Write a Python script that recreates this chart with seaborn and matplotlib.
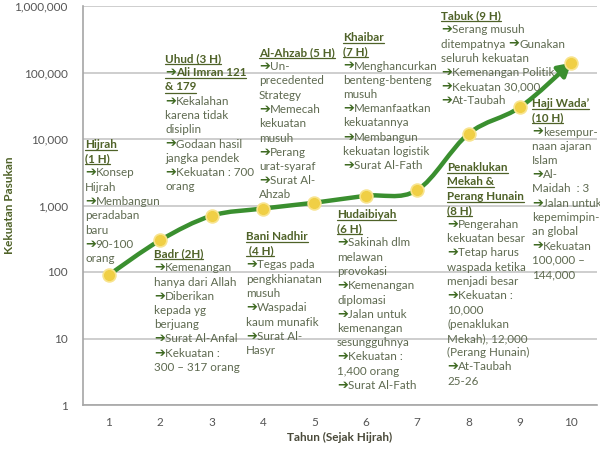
import re
import numpy as np
import matplotlib
matplotlib.use('Agg')
import matplotlib.pyplot as plt
import seaborn as sns
from matplotlib.path import Path
from matplotlib.patches import FancyArrowPatch
from matplotlib.lines import Line2D
from matplotlib.ticker import NullLocator

# data
years = [1, 2, 3, 4, 5, 6, 7, 8, 9, 10]
pasukan = [90, 300, 700, 900, 1100, 1400, 1700, 12000, 30000, 140000]
y_ticks = [1, 10, 100, 1000, 10000, 100000, 1000000]

# annotation texts (title lines, body lines)
hijrah_title = ['Hijrah', '(1 H)']
hijrah_body = ['➔Konsep', 'Hijrah', '➔Membangun', 'peradaban', 'baru', '➔90-100', 'orang']
badr_title = ['Badr (2H)']
badr_body = ['➔Kemenangan', 'hanya dari Allah', '➔Diberikan', 'kepada yg', 'berjuang',
             '➔Surat Al-Anfal', '➔Kekuatan :', '300 – 317 orang']
uhud_title = ['Uhud (3 H)', '➔Ali Imran 121', '& 179']
uhud_body = ['➔Kekalahan', 'karena tidak', 'disiplin', '➔Godaan hasil', 'jangka pendek',
             '➔Kekuatan : 700', 'orang']
nadhir_title = ['Bani Nadhir', ' (4 H)']
nadhir_body = ['➔Tegas pada', 'pengkhianatan', 'musuh', '➔Waspadai', 'kaum munafik',
               '➔Surat Al-', 'Hasyr']
ahzab_title = ['Al-Ahzab (5 H)']
ahzab_body = ['➔Un-', 'precedented', 'Strategy', '➔Memecah', 'kekuatan', 'musuh',
              '➔Perang', 'urat-syaraf', '➔Surat Al-', 'Ahzab']
hudaibiyah_title = ['Hudaibiyah', '(6 H)']
hudaibiyah_body = ['➔Sakinah dlm', 'melawan', 'provokasi', '➔Kemenangan', 'diplomasi',
                   '➔Jalan untuk', 'kemenangan', 'sesungguhnya', '➔Kekuatan :',
                   '1,400 orang', '➔Surat Al-Fath']
khaibar_title = ['Khaibar', '(7 H)']
khaibar_body = ['➔Menghancurkan', 'benteng-benteng', 'musuh', '➔Memanfaatkan',
                'kekuatannya', '➔Membangun', 'kekuatan logistik', '➔Surat Al-Fath']
mekah_title = ['Penaklukan', 'Mekah &', 'Perang Hunain', '(8 H)']
mekah_body = ['➔Pengerahan', 'kekuatan besar', '➔Tetap harus', 'waspada ketika',
              'menjadi besar', '➔Kekuatan :', '10,000', '(penaklukan', 'Mekah), 12,000',
              '(Perang Hunain)', '➔At-Taubah', '25-26']
tabuk_title = ['Tabuk (9 H)']
tabuk_body = ['➔Serang musuh', 'ditempatnya ➔Gunakan', 'seluruh kekuatan',
              '➔Kemenangan Politik', '➔Kekuatan 30,000', '➔At-Taubah']
wada_title = ['Haji Wada’', '(10 H)']
wada_body = ['➔kesempur-', 'naan ajaran', 'Islam', '➔Al-', 'Maidah  : 3', '➔Jalan untuk',
             'kepemimpin-', 'an global', '➔Kekuatan', '100,000 –', '144,000']

notes = [(hijrah_title, hijrah_body), (badr_title, badr_body), (uhud_title, uhud_body),
         (nadhir_title, nadhir_body), (ahzab_title, ahzab_body),
         (hudaibiyah_title, hudaibiyah_body), (khaibar_title, khaibar_body),
         (mekah_title, mekah_body), (tabuk_title, tabuk_body), (wada_title, wada_body)]
# top-left of each block in pixels (x, centre of first line)
note_pos = [(85, 144), (154, 253), (165, 58), (246, 236), (259, 52),
            (337, 214), (343, 37), (447, 167), (441, 15), (532, 103)]

W, H = 600, 450
LINE_H = 14.25
FS = 8.4
title_c = '#4f6228'
body_c = '#5e6a50'
arrow_c = '#3f6a22'
line_c = '#3a8f2f'

sns.set_style('white')
plt.rcParams['font.family'] = ['Lato', 'DejaVu Sans']

fig = plt.figure(figsize=(6, 4.5), dpi=100)
ax = fig.add_axes([83 / W, 1 - 405 / H, (597 - 83) / W, (405 - 6) / H])

ax.set_yscale('log')
ax.set_xlim(0.5, 10.5)
ax.set_ylim(1, 1e6)

# smooth (Excel-like) curve as bezier path in log space
lx = np.array(years, dtype=float)
ly = np.log10(pasukan)
pts = np.column_stack([lx, ly])
verts = [pts[0]]
codes = [Path.MOVETO]
n = len(pts)
for i in range(n - 1):
    p_prev = pts[max(i - 1, 0)]
    p_next2 = pts[min(i + 2, n - 1)]
    c1 = pts[i] + (pts[i + 1] - p_prev) / 6
    c2 = pts[i + 1] - (p_next2 - pts[i]) / 6
    verts += [c1, c2, pts[i + 1]]
    codes += [Path.CURVE4] * 3
verts = np.array(verts)
verts[:, 1] = 10 ** verts[:, 1]
curve = FancyArrowPatch(path=Path(verts, codes), arrowstyle='-|>,head_length=0.55,head_width=0.32',
                        mutation_scale=14, color=line_c, lw=3.2, transform=ax.transData,
                        capstyle='round', joinstyle='round', zorder=3)
ax.add_patch(curve)

sns.scatterplot(x=years, y=pasukan, ax=ax, s=85, color='#f0cf45', edgecolor='#f8e48e',
                linewidth=1.2, zorder=5)

ax.set_xlim(0.5, 10.5)
ax.set_ylim(1, 1e6)
ax.set_yticks(y_ticks)
ax.set_yticklabels([f'{v:,}' for v in y_ticks])
ax.yaxis.set_minor_locator(NullLocator())
ax.set_xticks(np.arange(0.5, 11, 1))
ax.set_xticklabels([''] * 11)
ax.set_xticks(years, minor=True)
ax.set_xticklabels([str(y) for y in years], minor=True)
ax.tick_params(axis='x', which='minor', length=0, pad=9, labelsize=8.5, labelcolor='#555555')
ax.tick_params(axis='x', which='major', length=4, color='#a6a6a6', direction='out')
ax.tick_params(axis='y', length=4, color='#a6a6a6', pad=7, labelsize=8.5, labelcolor='#555555')
ax.yaxis.grid(True, color='#c6c6c6', lw=1.2)
ax.xaxis.grid(False)
for s in ['top', 'right']:
    ax.spines[s].set_visible(False)
for s in ['left', 'bottom']:
    ax.spines[s].set_color('#a6a6a6')
    ax.spines[s].set_linewidth(1.2)

fig.text(340 / W, 1 - 437 / H, 'Tahun (Sejak Hijrah)', ha='center', va='center',
         fontsize=8.5, fontweight='bold', color='#4a4a3a')
fig.text(10 / W, 1 - 205 / H, 'Kekuatan Pasukan', ha='center', va='center', rotation=90,
         fontsize=8.5, fontweight='bold', color=title_c)

underlines = []


def draw_line(x, yc, text, is_title):
    base = H - (yc + 4)
    parts = [p for p in re.split('(➔)', text) if p]
    prev = None
    arts = []
    for part in parts:
        if part == '➔':
            kw = dict(fontsize=FS + 1, color=arrow_c, fontweight='bold',
                      family=['DejaVu Sans'])
        else:
            kw = dict(fontsize=FS, color=title_c if is_title else body_c,
                      fontweight='bold' if is_title else 'normal')
        if prev is None:
            t = fig.text(x / W, base / H, part, ha='left', va='baseline', **kw)
        else:
            t = ax.annotate(part, xy=(1, base), xycoords=(prev, 'figure pixels'),
                            ha='left', va='baseline', **kw)
        arts.append(t)
        prev = t
    if is_title:
        underlines.append((arts, base))


for (titles, body), (x0, y0) in zip(notes, note_pos):
    k = 0
    for line in titles:
        draw_line(x0, y0 + k * LINE_H, line, True)
        k += 1
    for line in body:
        draw_line(x0, y0 + k * LINE_H, line, False)
        k += 1

fig.canvas.draw()
r = fig.canvas.get_renderer()
for arts, base in underlines:
    bbs = [a.get_window_extent(r) for a in arts]
    xa, xb = bbs[0].x0, bbs[-1].x1
    yy = base - 2
    fig.add_artist(Line2D([xa / W, xb / W], [yy / H, yy / H], transform=fig.transFigure,
                          color=title_c, lw=0.9))

fig.savefig('out.png', dpi=100)
